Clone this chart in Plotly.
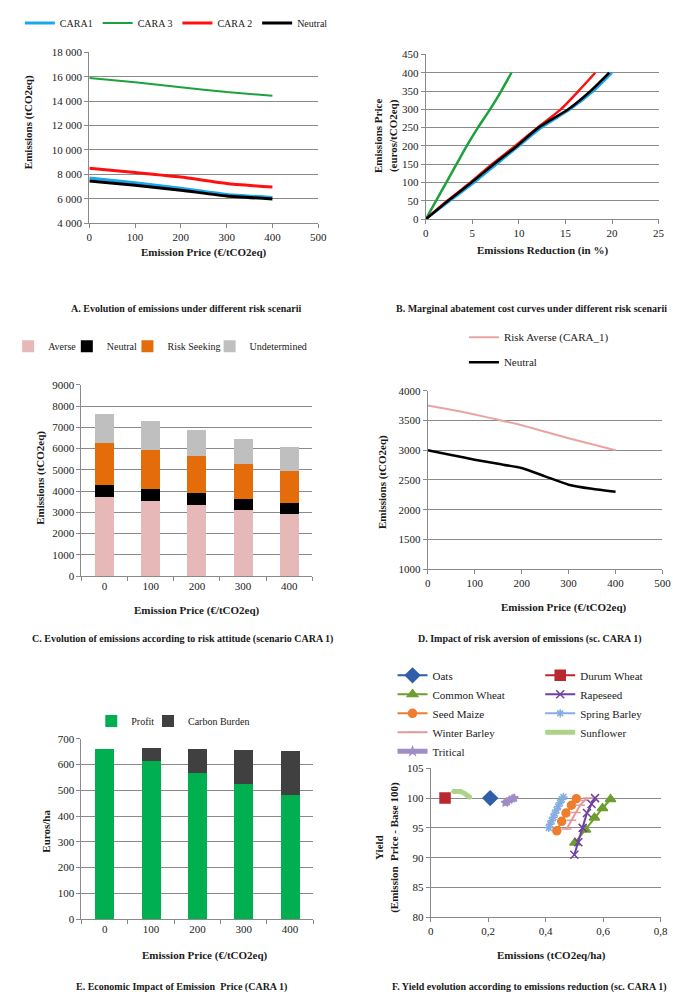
import plotly.graph_objects as go

W, H = 685, 1000


def fx(p):
    return p / W


def fy(p):
    return 1 - p / H


# ---------------- Panel A data ----------------
price_a = [0, 100, 200, 300, 400]
cara1_a = [7700, 7300, 6850, 6350, 6100]
cara3_a = [15900, 15550, 15150, 14750, 14450]
cara2_a = [8500, 8150, 7780, 7250, 6950]
neutral_a = [7450, 7100, 6700, 6220, 5980]

# ---------------- Panel B data ----------------
price_b = [0, 50, 100, 150, 200, 250, 300, 350, 400]
cara1_b = [0, 2.6, 5.2, 7.6, 10.0, 12.4, 15.5, 18.0, 20.0]
cara3_b = [0, 1.1, 2.2, 3.3, 4.4, 5.6, 6.9, 8.1, 9.2]
cara2_b = [0, 2.3, 4.8, 7.1, 9.6, 12.0, 14.5, 16.4, 18.2]
neutral_b = [0, 2.4, 4.9, 7.3, 9.8, 12.1, 15.3, 17.7, 19.7]

# ---------------- Panel C data ----------------
price_c = ["0", "100", "200", "300", "400"]
averse_c = [3740, 3520, 3340, 3120, 2920]
neutral_c = [560, 560, 555, 525, 510]
seeking_c = [1960, 1870, 1730, 1610, 1515]
undet_c = [1360, 1330, 1250, 1190, 1145]

# ---------------- Panel D data ----------------
price_d = [0, 50, 100, 150, 200, 250, 300, 350, 400]
averse_d = [3750, 3680, 3600, 3510, 3420, 3310, 3200, 3100, 3000]
neutral_d = [3000, 2920, 2840, 2770, 2700, 2560, 2420, 2350, 2300]

# ---------------- Panel E data ----------------
price_e = ["0", "100", "200", "300", "400"]
profit_e = [662, 612, 567, 524, 480]
carbon_e = [0, 51, 95, 134, 173]

# ---------------- Panel F data ----------------
oats_x, oats_y = [0.207], [100]
durum_x, durum_y = [0.05], [100]
cwheat_x = [0.502, 0.539, 0.570, 0.598, 0.626]
cwheat_y = [92.5, 94.7, 96.7, 98.3, 99.8]
rape_x = [0.500, 0.514, 0.529, 0.544, 0.560, 0.572]
rape_y = [90.5, 92.6, 95.0, 97.5, 99.0, 100.0]
maize_x = [0.439, 0.456, 0.471, 0.490, 0.507]
maize_y = [94.5, 96.1, 97.5, 98.8, 99.9]
sbarley_x = [0.411, 0.416, 0.421, 0.427, 0.432, 0.438, 0.444, 0.450, 0.456, 0.462]
sbarley_y = [95.0, 95.6, 96.2, 96.8, 97.4, 98.0, 98.6, 99.2, 99.8, 100.2]
wbarley_x = [0.473, 0.490, 0.505, 0.520, 0.535, 0.548]
wbarley_y = [94.8, 96.3, 97.6, 98.8, 99.6, 100.0]
sunf_x = [0.075, 0.090, 0.105, 0.120, 0.130, 0.140]
sunf_y = [101.1, 101.2, 101.1, 100.7, 100.3, 100.0]
trit_x = [0.260, 0.266, 0.275, 0.284, 0.291]
trit_y = [99.2, 99.4, 99.7, 99.9, 100.0]

FONT = "Liberation Serif, Tinos, Times New Roman, DejaVu Serif, serif"
GRID = "#8a8a8a"
TXT = "#1a1a1a"
LF = dict(family=FONT, size=11, color=TXT)
LF10 = dict(family=FONT, size=10, color=TXT)

fig = go.Figure()
legends = {}


def add_legend(key, x, y, **kw):
    d = dict(orientation="v", x=fx(x), y=fy(y), xanchor="left", yanchor="middle",
             bgcolor="rgba(0,0,0,0)", font=LF)
    d.update(kw)
    legends[key] = d


# ---- A ----
for name, ys, col in [("CARA1", cara1_a, "#1aa7ec"), ("CARA 3", cara3_a, "#1ca23c"),
                      ("CARA 2", cara2_a, "#ff1010"), ("Neutral", neutral_a, "#000000")]:
    fig.add_trace(go.Scatter(x=price_a, y=ys, name=name, mode="lines",
                             line=dict(color=col, width=3 if name != "CARA 3" else 2, shape="spline", smoothing=0.5),
                             xaxis="x", yaxis="y", legend="legend"))
add_legend("legend", 6, 7, orientation="h", itemwidth=30, font=LF10)

# ---- B ----
for name, xs, col in [("CARA1", cara1_b, "#1aa7ec"), ("CARA 3", cara3_b, "#1ca23c"),
                      ("CARA 2", cara2_b, "#ff1010"), ("Neutral", neutral_b, "#000000")]:
    fig.add_trace(go.Scatter(x=xs, y=price_b, name=name, mode="lines", showlegend=False,
                             line=dict(color=col, width=2.5, shape="spline", smoothing=0.5),
                             xaxis="x2", yaxis="y2"))

# ---- C ----
c_series = [("Averse", averse_c, "#e6b9b8", "legend5", -6),
            ("Neutral", neutral_c, "#000000", "legend6", 54),
            ("Risk Seeking", seeking_c, "#e46c0a", "legend7", 116),
            ("Undetermined", undet_c, "#bfbfbf", "legend8", 200)]
for name, ys, col, lg, lx in c_series:
    fig.add_trace(go.Bar(x=price_c, y=ys, name=name, marker=dict(color=col, line=dict(width=0)),
                         xaxis="x3", yaxis="y3", legend=lg))
    add_legend(lg, lx, 335, font=LF10)

# ---- D ----
fig.add_trace(go.Scatter(x=price_d, y=averse_d, name="Risk Averse (CARA_1)", mode="lines",
                         line=dict(color="#e8a4a4", width=2, shape="spline", smoothing=0.5),
                         xaxis="x4", yaxis="y4", legend="legend9", legendgroup="g1"))
fig.add_trace(go.Scatter(x=price_d, y=neutral_d, name="Neutral", mode="lines",
                         line=dict(color="#000000", width=2.5, shape="spline", smoothing=0.5),
                         xaxis="x4", yaxis="y4", legend="legend9", legendgroup="g2"))
add_legend("legend9", 460, 311, yanchor="top", traceorder="grouped", tracegroupgap=6)

# ---- E ----
fig.add_trace(go.Bar(x=price_e, y=profit_e, name="Profit", marker=dict(color="#00b050", line=dict(width=0)),
                     xaxis="x5", yaxis="y5", legend="legend10"))
add_legend("legend10", 79, 715, font=LF10)
fig.add_trace(go.Bar(x=price_e, y=carbon_e, name="Carbon Burden", marker=dict(color="#404040", line=dict(width=0)),
                     xaxis="x5", yaxis="y5", legend="legend11"))
add_legend("legend11", 137, 715, font=LF10)

# ---- F ----
f_series = [
    ("Oats", oats_x, oats_y, "#2e5fa8", "diamond", 11, 2, "legend12"),
    ("Common Wheat", cwheat_x, cwheat_y, "#6e9e2e", "triangle-up", 9, 2, "legend12"),
    ("Seed Maize", maize_x, maize_y, "#ee7d2e", "circle", 8, 2, "legend12"),
    ("Winter Barley", wbarley_x, wbarley_y, "#e39a9a", "line-ew-open", 7, 2, "legend12"),
    ("Tritical", trit_x, trit_y, "#a08cc6", "star", 6, 5, "legend12"),
    ("Durum Wheat", durum_x, durum_y, "#b8282e", "square", 10, 2, "legend13"),
    ("Rapeseed", rape_x, rape_y, "#7040a0", "x-thin-open", 8, 2, "legend13"),
    ("Spring Barley", sbarley_x, sbarley_y, "#86ade0", "asterisk-open", 7, 2, "legend13"),
    ("Sunflower", sunf_x, sunf_y, "#add289", "circle", 1, 5, "legend13"),
]
for name, xs, ys, col, sym, size, lw, lg in f_series:
    fig.add_trace(go.Scatter(x=xs, y=ys, name=name, mode="lines+markers",
                             line=dict(color=col, width=lw),
                             marker=dict(symbol=sym, size=size, color=col, line=dict(color=col, width=1.5)),
                             xaxis="x6", yaxis="y6", legend=lg))
add_legend("legend12", 387, 654, yanchor="top", tracegroupgap=0)
add_legend("legend13", 538, 654, yanchor="top", tracegroupgap=0)


def xax(d, **kw):
    base = dict(domain=[fx(d[0]), fx(d[1])], showline=True, linecolor=GRID, linewidth=1,
                ticks="outside", ticklen=4, tickcolor=GRID, showgrid=False, zeroline=False,
                tickfont=dict(family=FONT, size=11, color=TXT))
    base.update(kw)
    return base


def yax(d, **kw):
    base = dict(domain=[fy(d[1]), fy(d[0])], showline=True, linecolor=GRID, linewidth=1,
                ticks="outside", ticklen=4, tickcolor=GRID, showgrid=True, gridcolor=GRID,
                gridwidth=1, zeroline=False, tickfont=dict(family=FONT, size=11, color=TXT))
    base.update(kw)
    return base


layout = dict(
    width=W, height=H, margin=dict(l=0, r=0, t=0, b=0),
    paper_bgcolor="white", plot_bgcolor="white",
    font=dict(family=FONT, size=11, color=TXT),
    separators=", ",
    barmode="stack", bargap=0.59,
    xaxis=xax((77, 311), anchor="y", range=[0, 500], dtick=100),
    yaxis=yax((37, 210), anchor="x", range=[4000, 18000], dtick=2000, separatethousands=True,
              exponentformat="none"),
    xaxis2=xax((421, 659), anchor="y2", range=[0, 25], dtick=5),
    yaxis2=yax((39, 206), anchor="x2", range=[0, 450], dtick=50),
    xaxis3=xax((69, 305), anchor="y3", type="category", tickson="boundaries"),
    yaxis3=yax((374, 568), anchor="x3", range=[0, 9000], dtick=1000),
    xaxis4=xax((423, 663), anchor="y4", range=[0, 500], dtick=100),
    yaxis4=yax((380, 561), anchor="x4", range=[1000, 4000], dtick=500),
    xaxis5=xax((69, 306), anchor="y5", type="category", tickson="boundaries"),
    yaxis5=yax((733, 916), anchor="x5", range=[0, 700], dtick=100),
    xaxis6=xax((426, 661), anchor="y6", range=[0, 0.8], dtick=0.2),
    yaxis6=yax((763, 914), anchor="x6", range=[80, 105], dtick=5),
)
layout.update(legends)

ann = []


def text(t, x, y, size=11, bold=True, angle=0):
    ann.append(dict(text=("<b>%s</b>" % t) if bold else t, x=fx(x), y=fy(y), xref="paper", yref="paper",
                    showarrow=False, xanchor="center", yanchor="middle", textangle=angle,
                    font=dict(family=FONT, size=size, color=TXT)))


# axis titles
text("Emission Price (€/tCO2eq)", 194, 240)
text("Emissions (tCO2eq)", 15, 108, angle=-90)
text("Emissions Reduction (in %)", 540, 238)
text("Emissions Price<br>(euros/tCO2eq)", 380, 122, angle=-90)
text("Emission Price (€/tCO2eq)", 187, 603)
text("Emissions (tCO2eq)", 27, 468, angle=-90)
text("Emission Price (€/tCO2eq)", 562, 600)
text("Emissions (tCO2eq)", 377, 473, angle=-90)
text("Emission Price (€/tCO2eq)", 195, 953)
text("Euros/ha", 33, 827, angle=-90)
text("Emissions (tCO2eq/ha)", 550, 953)
text("Yield<br>(Emission  Price - Base 100)", 381, 843, angle=-90)

# captions
text("A. Evolution of emissions under different risk scenarii", 176, 297, size=10)
text("B. Marginal abatement cost curves under different risk scenarii", 529, 297, size=10)
text("C. Evolution of emissions according to risk attitude (scenario CARA 1)", 172, 632, size=10)
text("D. Impact of risk aversion of emissions (sc. CARA 1)", 528, 632, size=10)
text("E. Economic Impact of Emission  Price (CARA 1)", 171, 985, size=10)
text("F. Yield evolution according to emissions reduction (sc. CARA 1)", 527, 985, size=10)

layout["annotations"] = ann
fig.update_layout(**layout)

fig.write_html("out.html")
